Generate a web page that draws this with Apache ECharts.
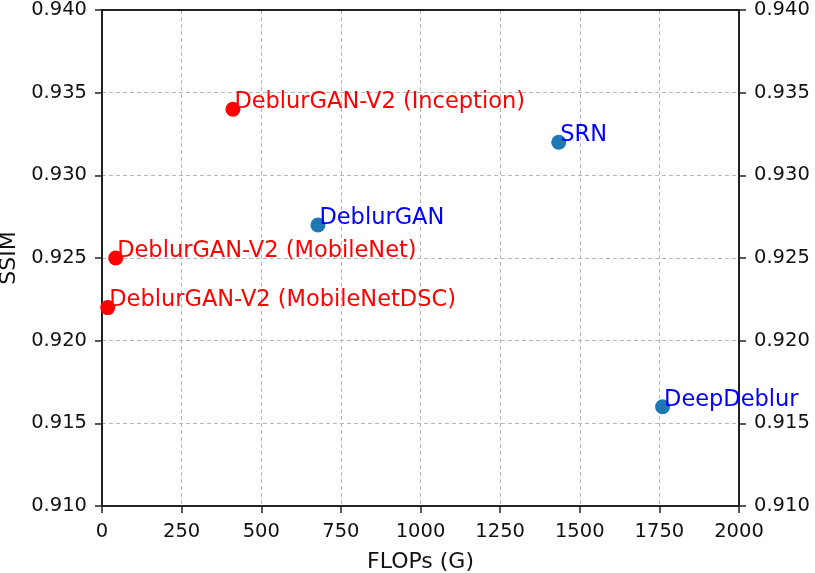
<!DOCTYPE html>
<html><head><meta charset="utf-8">
<script src="https://cdn.jsdelivr.net/npm/echarts@6/dist/echarts.min.js"></script>
<style>html,body{margin:0;padding:0;background:#fff}#c{width:815px;height:573px}</style>
</head><body><div id="c"></div>
<script>
const v2Names = ['DeblurGAN-V2 (Inception)', 'DeblurGAN-V2 (MobileNet)', 'DeblurGAN-V2 (MobileNetDSC)'];
const v2Flops = [411, 43, 18];
const v2Ssim = [0.934, 0.925, 0.922];
const otherNames = ['DeblurGAN', 'SRN', 'DeepDeblur'];
const otherFlops = [678, 1434, 1760];
const otherSsim = [0.927, 0.932, 0.916];
const xTicks = [0, 250, 500, 750, 1000, 1250, 1500, 1750, 2000];
const yTicks = [0.910, 0.915, 0.920, 0.925, 0.930, 0.935, 0.940];

const FONT = 'DejaVu Sans';
const TXT = '#111';
const AX = '#222';
function pts(names, xs, ys) { return names.map((n, i) => ({ name: n, value: [xs[i], ys[i]] })); }
function yAxisCfg(pos, showName) {
  return {
    type: 'value', position: pos, min: yTicks[0], max: yTicks[yTicks.length - 1], interval: 0.005,
    name: showName ? 'SSIM' : '', nameLocation: 'middle', nameGap: 82,
    nameTextStyle: { fontFamily: FONT, fontSize: 22, color: TXT },
    axisLine: { show: true, onZero: false, lineStyle: { color: AX, width: 2 } },
    axisTick: { show: true, inside: false, length: 7, lineStyle: { color: AX, width: 1.5 } },
    axisLabel: { show: true, margin: 15, fontFamily: FONT, fontSize: 19.5, color: TXT, formatter: v => v.toFixed(3) },
    splitLine: { show: pos === 'left', lineStyle: { color: '#b8b8b8', type: [4, 3], width: 1 } }
  };
}
const labelCfg = color => ({
  show: true, formatter: p => p.name, position: [9, 12], align: 'left', verticalAlign: 'bottom',
  fontFamily: FONT, fontSize: 22.5, color: color
});
const chart = echarts.init(document.getElementById('c'), null, { renderer: 'canvas' });
chart.setOption({
  animation: false,
  backgroundColor: '#fff',
  grid: { left: 102, right: 76, top: 10, bottom: 67, containLabel: false, outerBoundsMode: 'none' },
  xAxis: [{
    type: 'value', position: 'bottom', min: xTicks[0], max: xTicks[xTicks.length - 1], interval: 250,
    name: 'FLOPs (G)', nameLocation: 'middle', nameGap: 45,
    nameTextStyle: { fontFamily: FONT, fontSize: 22, color: TXT },
    axisLine: { show: true, onZero: false, lineStyle: { color: AX, width: 2 } },
    axisTick: { show: true, inside: false, length: 7, lineStyle: { color: AX, width: 1.5 } },
    axisLabel: { margin: 16, fontFamily: FONT, fontSize: 19.5, color: TXT, formatter: v => String(v) },
    splitLine: { show: true, lineStyle: { color: '#b8b8b8', type: [4, 3], width: 1 } }
  }, {
    type: 'value', position: 'top', min: xTicks[0], max: xTicks[xTicks.length - 1], interval: 250,
    axisLine: { show: true, onZero: false, lineStyle: { color: AX, width: 2 } },
    axisTick: { show: false }, axisLabel: { show: false }, splitLine: { show: false }
  }],
  yAxis: [yAxisCfg('left', true), yAxisCfg('right', false)],
  series: [
    { type: 'scatter', xAxisIndex: 0, yAxisIndex: 0, symbol: 'circle', symbolSize: 15, itemStyle: { color: '#ff0000', opacity: 1 },
      label: labelCfg('#ff0000'), data: pts(v2Names, v2Flops, v2Ssim) },
    { type: 'scatter', xAxisIndex: 0, yAxisIndex: 0, symbol: 'circle', symbolSize: 15, itemStyle: { color: '#1f77b4', opacity: 1 },
      label: labelCfg('#0000ff'), data: pts(otherNames, otherFlops, otherSsim) }
  ]
});
</script></body></html>
